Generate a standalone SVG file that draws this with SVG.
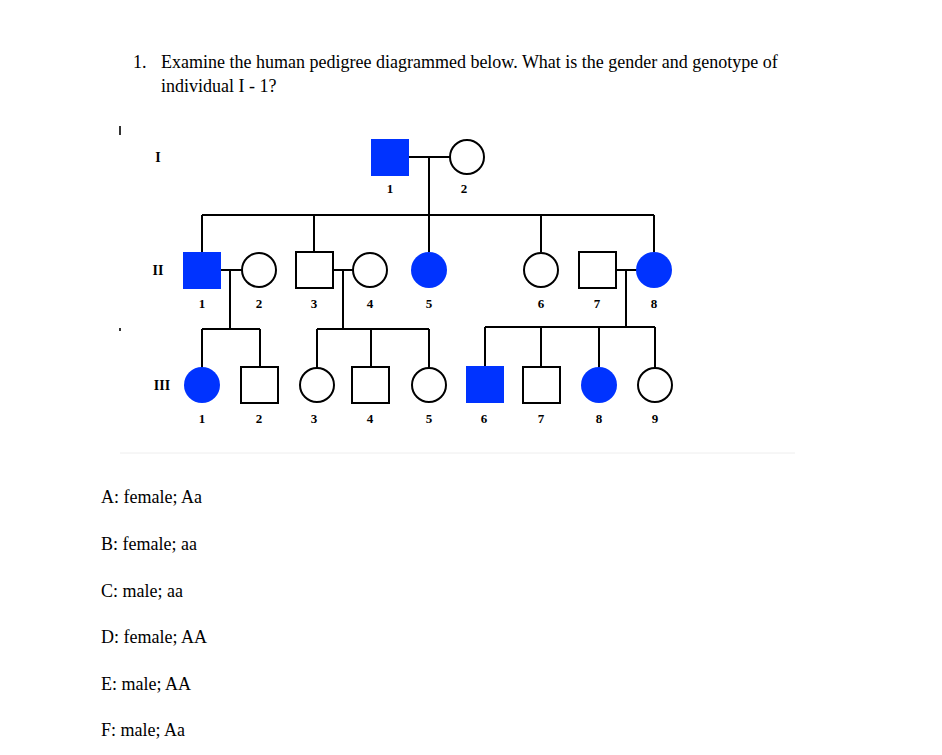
<svg xmlns="http://www.w3.org/2000/svg" width="942" height="755" viewBox="0 0 942 755">
<style>
.t{font-family:"Liberation Serif",serif;font-size:18px;fill:#000}
.n{font-family:"Liberation Serif",serif;font-size:13px;font-weight:bold;text-anchor:middle}
.g{font-family:"Liberation Serif",serif;font-size:14px;font-weight:bold;text-anchor:middle}
.l{stroke:#000;stroke-width:2;fill:none}
.u{fill:#fff;stroke:#000;stroke-width:2}
.a{fill:#0033ff;stroke:none}
</style>
<rect width="942" height="755" fill="#fff"/>
<text class="t" x="133" y="68">1.</text>
<text class="t" x="161" y="68">Examine the human pedigree diagrammed below. What is the gender and genotype of</text>
<text class="t" x="161" y="92">individual I - 1?</text>
<rect x="119" y="126" width="2" height="9" fill="#333"/>
<rect x="119" y="328" width="2" height="3" fill="#333"/>
<line x1="120" y1="453" x2="795" y2="453" stroke="#eee" stroke-width="1"/>
<text class="g" x="158" y="162">I</text>
<text class="g" x="158" y="275">II</text>
<text class="g" x="162" y="390">III</text>
<g id="connectors">
<path class="l" d="M409 157H450M429 157V215M202 215H654M202 215V252M314 215V252M429 215V252M541 215V252M654 215V252"/>
<path class="l" d="M221 270H242M230 270V329M202 329H260M202 329V368M260 329V367"/>
<path class="l" d="M333 270H353M343 270V329M317 329H429M317 329V368M371 329V367M429 329V368"/>
<path class="l" d="M616 270H637M626 270V327M485 327H655M485 327V367M541 327V367M599 327V368M655 327V368"/>
</g>
<g id="I-1"><rect class="a" x="371" y="139" width="38" height="37"/><text class="n" x="390" y="193">1</text></g>
<g id="I-2"><circle class="u" cx="467" cy="157" r="17"/><text class="n" x="464" y="193">2</text></g>
<g id="II-1"><rect class="a" x="183" y="252" width="38" height="37"/><text class="n" x="202" y="308">1</text></g>
<g id="II-2"><circle class="u" cx="259" cy="270" r="17"/><text class="n" x="259" y="308">2</text></g>
<g id="II-3"><rect class="u" x="296" y="252" width="37" height="36"/><text class="n" x="314" y="308">3</text></g>
<g id="II-4"><circle class="u" cx="370" cy="270" r="17"/><text class="n" x="370" y="308">4</text></g>
<g id="II-5"><circle class="a" cx="429" cy="270" r="18"/><text class="n" x="429" y="308">5</text></g>
<g id="II-6"><circle class="u" cx="541" cy="270" r="17"/><text class="n" x="541" y="308">6</text></g>
<g id="II-7"><rect class="u" x="579" y="252" width="37" height="36"/><text class="n" x="597" y="308">7</text></g>
<g id="II-8"><circle class="a" cx="654" cy="270" r="18"/><text class="n" x="654" y="308">8</text></g>
<g id="III-1"><circle class="a" cx="202" cy="385" r="18"/><text class="n" x="202" y="423">1</text></g>
<g id="III-2"><rect class="u" x="241" y="367" width="37" height="36"/><text class="n" x="259" y="423">2</text></g>
<g id="III-3"><circle class="u" cx="317" cy="385" r="17"/><text class="n" x="314" y="423">3</text></g>
<g id="III-4"><rect class="u" x="352" y="367" width="37" height="36"/><text class="n" x="370" y="423">4</text></g>
<g id="III-5"><circle class="u" cx="429" cy="385" r="17"/><text class="n" x="429" y="423">5</text></g>
<g id="III-6"><rect class="a" x="466" y="366" width="38" height="37"/><text class="n" x="484" y="423">6</text></g>
<g id="III-7"><rect class="u" x="523" y="367" width="37" height="36"/><text class="n" x="541" y="423">7</text></g>
<g id="III-8"><circle class="a" cx="599" cy="385" r="18"/><text class="n" x="599" y="423">8</text></g>
<g id="III-9"><circle class="u" cx="655" cy="385" r="17"/><text class="n" x="655" y="423">9</text></g>
<text class="t" x="101" y="503">A: female; Aa</text>
<text class="t" x="101" y="550">B: female; aa</text>
<text class="t" x="101" y="597">C: male; aa</text>
<text class="t" x="101" y="643">D: female; AA</text>
<text class="t" x="101" y="690">E: male; AA</text>
<text class="t" x="101" y="736">F: male; Aa</text>
</svg>
